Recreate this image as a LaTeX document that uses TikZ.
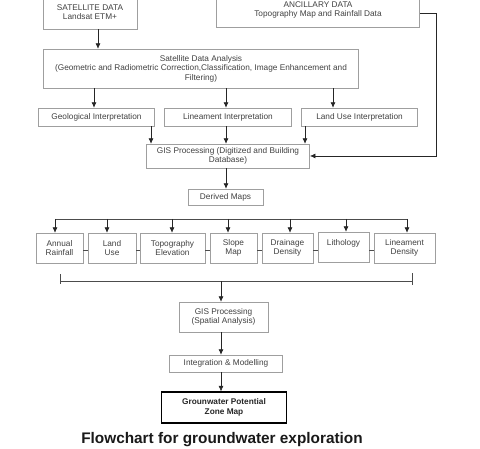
\documentclass[tikz,border=0pt]{standalone}
\usepackage{fontspec}
\setmainfont{Liberation Sans}
\usetikzlibrary{shapes,backgrounds,arrows.meta}

\tikzset{
  box/.style={draw=gray!75, line width=0.6pt, text=black!75, align=center,
    inner sep=1pt, font=\fontsize{8.3}{9.5}\selectfont},
  arr/.style={-{Latex[length=5.5pt,width=5pt]}, line width=0.6pt, draw=black!85},
  link/.style={line width=0.6pt, draw=black!70},
}

\begin{document}
\begin{tikzpicture}[x=1bp,y=-1bp]
\useasboundingbox (0,0) rectangle (480,449);

% input data
\node[box, minimum width=94, minimum height=34] (sat) at (90,12) {SATELLITE DATA\\Landsat ETM+};
\node[box, minimum width=204, minimum height=34] (anc) at (318,10) {ANCILLARY DATA\\Topography Map and Rainfall Data};

\node[box, minimum width=316, minimum height=39] (ana) at (201,68.5)
  {Satellite Data Analysis\\(Geometric and Radiometric Correction,Classification, Image Enhancement and\\Filtering)};

% interpretation
\node[box, minimum width=117, minimum height=18] (geo) at (96.5,117) {Geological Interpretation};
\node[box, minimum width=128, minimum height=18] (lin) at (228,117) {Lineament Interpretation};
\node[box, minimum width=117, minimum height=18] (lu) at (359.5,117) {Land Use Interpretation};

\node[box, minimum width=164, minimum height=24] (gis) at (228,156) {GIS Processing (Digitized and Building\\Database)};
\node[box, minimum width=75, minimum height=16] (der) at (225.5,197) {Derived Maps};

% thematic layers
\node[box, minimum width=47, minimum height=30] (rain) at (59.5,248) {Annual\\Rainfall};
\node[box, minimum width=48, minimum height=30] (luse) at (112,248) {Land\\Use};
\node[box, minimum width=65, minimum height=30] (topo) at (172.5,248) {Topography\\Elevation};
\node[box, minimum width=47, minimum height=30] (slope) at (233.5,248) {Slope\\Map};
\node[box, minimum width=51, minimum height=30] (drain) at (287.5,248) {Drainage\\Density};
\node[box, minimum width=51, minimum height=30] (lith) at (343.5,247) {Lithology\\~};
\node[box, minimum width=61, minimum height=30] (lind) at (404.5,248) {Lineament\\Density};

\node[box, minimum width=89, minimum height=30] (gis2) at (223.5,317) {GIS Processing\\(Spatial Analysis)};
\node[box, minimum width=114, minimum height=17] (integ) at (226,363.5) {Integration \& Modelling};
\node[box, draw=black, line width=1.3pt, text=black!85, font=\fontsize{8.3}{9.5}\selectfont\bfseries,
  minimum width=126, minimum height=31] (gw) at (224,407.5) {Grounwater Potential\\Zone Map};

\node[font=\fontsize{15.4}{18}\selectfont\bfseries, text=black!90] (title) at (222,440) {Flowchart for groundwater exploration};

% connectors
\draw[arr] (sat.south -| 98,0) -- (ana.north -| 98,0);
\foreach \n/\x in {geo/94,lin/226,lu/333}
  \draw[arr] (ana.south -| \x,0) -- (\n.north -| \x,0);
\foreach \n/\x in {geo/151,lin/226,lu/305}
  \draw[arr] (\n.south -| \x,0) -- (gis.north -| \x,0);
\coordinate (bend) at (436,13);
\draw[arr] (anc.east |- bend) -- (bend) |- (gis.east);
\draw[arr] (gis.south -| 226,0) -- (der.north -| 226,0);

\draw[link] (55,219) -- (407,219);
\foreach \n/\x in {rain/55,luse/107,topo/172,slope/228,drain/290,lith/346,lind/407}
  \draw[arr] (\x,219) -- (\n.north -| \x,0);
\foreach \a/\b in {rain/luse,luse/topo,topo/slope,slope/drain,drain/lith,lith/lind}
  \draw[link] (\a.east |- 0,250) -- (\b.west |- 0,250);

\draw[link] (60,274) -- (60,284) (60,281) -- (412,281) (412,273) -- (412,285);
\draw[arr] (221,281) -- (gis2.north -| 221,0);
\draw[arr] (gis2.south -| 221,0) -- (integ.north -| 221,0);
\draw[arr] (integ.south -| 221,0) -- (gw.north -| 221,0);

\end{tikzpicture}
\end{document}
